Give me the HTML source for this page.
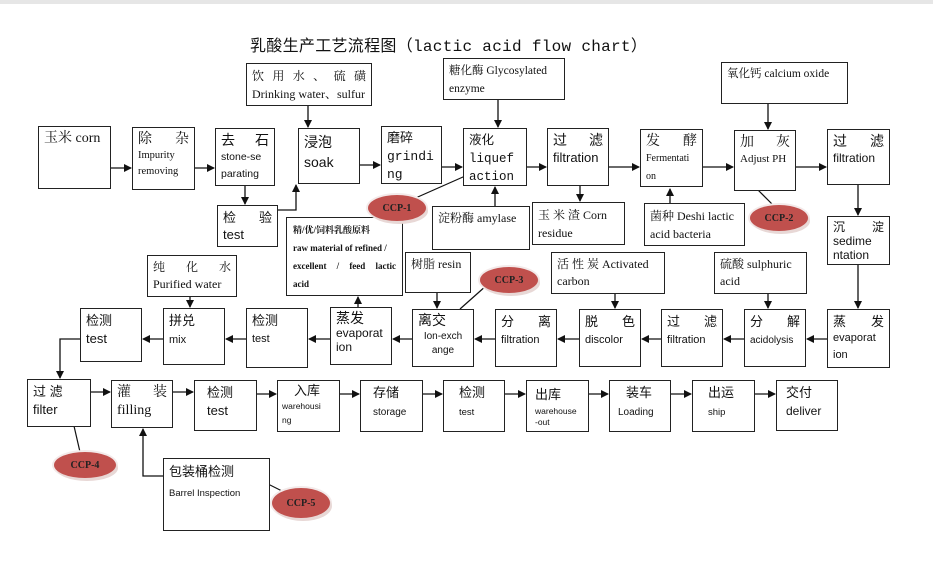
<!DOCTYPE html>
<html><head><meta charset="utf-8"><style>
body{margin:0;width:933px;height:576px;background:#fff;position:relative;overflow:hidden;font-family:"Liberation Serif","Noto Serif CJK SC",serif;color:#111}
.topbar{position:absolute;left:0;top:0;width:933px;height:4px;background:#e6e6e6}
.b{position:absolute;border:1.6px solid #222;box-sizing:border-box;background:#fff;padding:3px 5px;font-size:13px;line-height:17px;overflow:hidden}
.s{font-family:"Liberation Sans","Noto Sans CJK SC",sans-serif}
.m{font-family:"Liberation Mono","Noto Sans CJK SC",monospace}
.sm{font-size:10.5px}
.j{display:flex;justify-content:space-between;white-space:nowrap}
.title{position:absolute;left:250px;top:32px;font-size:16px;font-family:"Liberation Mono","Noto Sans CJK SC",monospace;letter-spacing:0.3px}
.ccp{position:absolute;border-radius:50%;background:#c0504d;box-shadow:2px 3px 0 #e8d8d6,0 0 0 2px #f3eaea;color:#222;font-weight:bold;font-size:10px;display:flex;align-items:center;justify-content:center;font-family:"Liberation Serif",serif}
svg{position:absolute;left:0;top:0}
</style></head><body>
<div class="topbar"></div>
<div class="title">乳酸生产工艺流程图（lactic acid flow chart）</div>

<svg width="933" height="576">
<defs><marker id="a" markerWidth="8" markerHeight="8" refX="7" refY="4" orient="auto" markerUnits="userSpaceOnUse"><path d="M0,0 L8,4 L0,8 z" fill="#111"/></marker></defs>
<g stroke="#111" stroke-width="1.3" fill="none" marker-end="url(#a)">
<line x1="111" y1="168" x2="131" y2="168"/>
<line x1="195" y1="168" x2="214" y2="168"/>
<line x1="360" y1="165" x2="380" y2="165"/>
<line x1="442" y1="167" x2="462" y2="167"/>
<line x1="527" y1="167" x2="546" y2="167"/>
<line x1="609" y1="167" x2="639" y2="167"/>
<line x1="703" y1="167" x2="733" y2="167"/>
<line x1="796" y1="167" x2="826" y2="167"/>
<line x1="308" y1="106" x2="308" y2="127"/>
<line x1="498" y1="100" x2="498" y2="127"/>
<line x1="768" y1="104" x2="768" y2="129"/>
<line x1="245" y1="186" x2="245" y2="204"/>
<polyline points="278,210 296,210 296,185"/>
<line x1="495" y1="206" x2="495" y2="187"/>
<line x1="580" y1="186" x2="580" y2="201"/>
<line x1="670" y1="203" x2="670" y2="189"/>
<line x1="858" y1="185" x2="858" y2="215"/>
<line x1="858" y1="265" x2="858" y2="308"/>
<line x1="827" y1="339" x2="807" y2="339"/>
<line x1="744" y1="339" x2="724" y2="339"/>
<line x1="661" y1="339" x2="642" y2="339"/>
<line x1="579" y1="339" x2="558" y2="339"/>
<line x1="495" y1="339" x2="475" y2="339"/>
<line x1="412" y1="339" x2="393" y2="339"/>
<line x1="330" y1="339" x2="309" y2="339"/>
<line x1="246" y1="339" x2="226" y2="339"/>
<line x1="163" y1="339" x2="143" y2="339"/>
<line x1="190" y1="297" x2="190" y2="307"/>
<line x1="437" y1="293" x2="437" y2="308"/>
<line x1="615" y1="294" x2="615" y2="308"/>
<line x1="768" y1="294" x2="768" y2="308"/>
<line x1="358" y1="307" x2="358" y2="297"/>
<polyline points="80,339 60,339 60,378"/>
<line x1="91" y1="392" x2="110" y2="392"/>
<line x1="173" y1="392" x2="193" y2="392"/>
<line x1="257" y1="394" x2="276" y2="394"/>
<line x1="340" y1="394" x2="359" y2="394"/>
<line x1="423" y1="394" x2="442" y2="394"/>
<line x1="505" y1="394" x2="525" y2="394"/>
<line x1="589" y1="394" x2="608" y2="394"/>
<line x1="671" y1="394" x2="691" y2="394"/>
<line x1="755" y1="394" x2="775" y2="394"/>
<polyline points="163,476 143,476 143,429"/>
</g>
<g stroke="#111" stroke-width="1.2">
<line x1="411" y1="200" x2="472" y2="173"/>
<line x1="754" y1="186" x2="778" y2="210"/>
<line x1="460" y1="309" x2="487" y2="285"/>
<line x1="71" y1="413" x2="80" y2="452"/>
<line x1="252" y1="476" x2="290" y2="495"/>
</g>
</svg>

<div class="b" style="left:246px;top:63px;width:126px;height:43px;font-size:12px;line-height:18px"><div class="j"><span>饮</span><span>用</span><span>水</span><span>、</span><span>硫</span><span>磺</span></div>Drinking water、sulfur</div>
<div class="b" style="left:443px;top:58px;width:122px;height:42px;font-size:11.5px;line-height:18px">糖化酶 Glycosylated enzyme</div>
<div class="b" style="left:721px;top:62px;width:127px;height:42px;font-size:11.5px">氧化钙 calcium oxide</div>

<div class="b" style="left:38px;top:126px;width:73px;height:63px;font-size:14px">玉米 corn</div>
<div class="b" style="left:132px;top:127px;width:63px;height:63px"><div class="j" style="font-size:14px"><span>除</span><span>杂</span></div><div class="sm" style="line-height:16px">Impurity removing</div></div>
<div class="b s" style="left:215px;top:128px;width:60px;height:58px"><div class="j" style="font-size:14px"><span>去</span><span>石</span></div><div class="sm" style="line-height:17px">stone-se parating</div></div>
<div class="b s" style="left:298px;top:128px;width:62px;height:56px;font-size:14px;line-height:20px">浸泡<br>soak</div>
<div class="b m" style="left:381px;top:126px;width:61px;height:58px;font-size:13px;line-height:18px">磨碎<br>grindi ng</div>
<div class="b m" style="left:463px;top:128px;width:64px;height:58px;font-size:12.5px;line-height:18px">液化<br>liquef<br>action</div>
<div class="b s" style="left:547px;top:128px;width:62px;height:58px"><div class="j" style="font-size:14px"><span>过</span><span>滤</span></div>filtration</div>
<div class="b" style="left:640px;top:129px;width:63px;height:58px"><div class="j" style="font-size:14px"><span>发</span><span>酵</span></div><div style="font-size:10px;line-height:18px">Fermentati on</div></div>
<div class="b" style="left:734px;top:130px;width:62px;height:61px"><div class="j" style="font-size:14px"><span>加</span><span>灰</span></div><div style="font-size:11px">Adjust PH</div></div>
<div class="b s" style="left:827px;top:129px;width:63px;height:56px"><div class="j" style="font-size:14px"><span>过</span><span>滤</span></div><div style="font-size:12px">filtration</div></div>

<div class="b s" style="left:217px;top:205px;width:61px;height:42px;font-size:13px;line-height:17px"><div class="j"><span>检</span><span>验</span></div>test</div>
<div class="b" style="left:286px;top:217px;width:117px;height:79px;font-size:9px;line-height:18px;font-weight:bold;padding:3px 6px"><div class="j"><span>精/优/饲料乳酸原料</span></div><div class="j"><span>raw material of refined /</span></div><div class="j"><span>excellent</span><span>/</span><span>feed</span><span>lactic</span></div><div>acid</div></div>
<div class="b" style="left:432px;top:206px;width:98px;height:44px;font-size:12px">淀粉酶 amylase</div>
<div class="b" style="left:532px;top:202px;width:93px;height:43px;font-size:12px;line-height:18px">玉 米 渣 Corn residue</div>
<div class="b" style="left:644px;top:203px;width:101px;height:43px;font-size:12px;line-height:18px">菌种 Deshi lactic acid bacteria</div>
<div class="b s" style="left:827px;top:216px;width:63px;height:49px;font-size:12px;line-height:14px"><div class="j"><span>沉</span><span>淀</span></div>sedime ntation</div>

<div class="b" style="left:147px;top:255px;width:90px;height:42px;font-size:12px;line-height:17px"><div class="j"><span>纯</span><span>化</span><span>水</span></div>Purified water</div>
<div class="b" style="left:405px;top:252px;width:66px;height:41px;font-size:12px">树脂 resin</div>
<div class="b" style="left:551px;top:252px;width:114px;height:42px;font-size:12px;line-height:17px">活 性 炭 Activated carbon</div>
<div class="b" style="left:714px;top:252px;width:93px;height:42px;font-size:12px;line-height:17px">硫酸 sulphuric acid</div>

<div class="b s" style="left:80px;top:308px;width:62px;height:54px;font-size:13px;line-height:18px">检测<br>test</div>
<div class="b s" style="left:163px;top:308px;width:62px;height:57px;font-size:13px;line-height:18px">拼兑<br><span style="font-size:11px">mix</span></div>
<div class="b s" style="left:246px;top:308px;width:62px;height:60px;font-size:13px;line-height:17px">检测<br><span style="font-size:11px">test</span></div>
<div class="b s" style="left:330px;top:307px;width:62px;height:58px;font-size:12px;line-height:14px"><span style="font-size:14px">蒸发</span><br>evaporat ion</div>
<div class="b s" style="left:412px;top:309px;width:62px;height:58px;font-size:10px;line-height:14px"><span style="font-size:14px">离交</span><br><div style="text-align:center">Ion-exch ange</div></div>
<div class="b s" style="left:495px;top:309px;width:62px;height:58px"><div class="j" style="font-size:13px"><span>分</span><span>离</span></div><span style="font-size:11px">filtration</span></div>
<div class="b s" style="left:579px;top:309px;width:62px;height:58px"><div class="j" style="font-size:13px"><span>脱</span><span>色</span></div><span style="font-size:11px">discolor</span></div>
<div class="b s" style="left:661px;top:309px;width:62px;height:58px"><div class="j" style="font-size:13px"><span>过</span><span>滤</span></div><span style="font-size:11px">filtration</span></div>
<div class="b s" style="left:744px;top:309px;width:62px;height:58px"><div class="j" style="font-size:13px"><span>分</span><span>解</span></div><span style="font-size:10px">acidolysis</span></div>
<div class="b s" style="left:827px;top:309px;width:63px;height:59px;font-size:11px;line-height:17px"><div class="j" style="font-size:13px"><span>蒸</span><span>发</span></div>evaporat ion</div>

<div class="b s" style="left:27px;top:379px;width:64px;height:48px;font-size:13px;line-height:18px">过 滤<br>filter</div>
<div class="b" style="left:111px;top:380px;width:62px;height:48px;font-size:14px;line-height:18px"><div class="j"><span>灌</span><span>装</span></div>filling</div>
<div class="b s" style="left:194px;top:380px;width:63px;height:51px;font-size:13px;line-height:18px;padding-left:12px">检测<br>test</div>
<div class="b s" style="left:277px;top:380px;width:63px;height:52px;font-size:8.5px;line-height:14px;padding-left:4px"><span style="font-size:13px;padding-left:12px">入库</span><br>warehousi<br>ng</div>
<div class="b s" style="left:360px;top:380px;width:63px;height:52px;font-size:10px;line-height:18px;padding-left:12px"><span style="font-size:13px">存储</span><br>storage</div>
<div class="b s" style="left:443px;top:380px;width:62px;height:52px;font-size:9.5px;line-height:18px;padding-left:15px"><span style="font-size:13px">检测</span><br>test</div>
<div class="b s" style="left:526px;top:380px;width:63px;height:52px;font-size:8.5px;line-height:11px;padding-left:8px"><span style="font-size:13px;line-height:22px">出库</span><br>warehouse<br>-out</div>
<div class="b s" style="left:609px;top:380px;width:62px;height:52px;font-size:10px;line-height:18px;padding-left:8px"><span style="font-size:13px;padding-left:8px">装车</span><br>Loading</div>
<div class="b s" style="left:692px;top:380px;width:63px;height:52px;font-size:9.5px;line-height:18px;padding-left:15px"><span style="font-size:13px">出运</span><br>ship</div>
<div class="b s" style="left:776px;top:380px;width:62px;height:51px;font-size:12px;line-height:18px;padding-left:9px"><span style="font-size:13px">交付</span><br>deliver</div>

<div class="b s" style="left:163px;top:458px;width:107px;height:73px;font-size:9.5px;line-height:20px"><span style="font-size:13px">包装桶检测</span><br>Barrel Inspection</div>

<div class="ccp" style="left:368px;top:195px;width:58px;height:26px">CCP-1</div>
<div class="ccp" style="left:750px;top:205px;width:58px;height:26px">CCP-2</div>
<div class="ccp" style="left:480px;top:267px;width:58px;height:26px">CCP-3</div>
<div class="ccp" style="left:54px;top:452px;width:62px;height:26px">CCP-4</div>
<div class="ccp" style="left:272px;top:488px;width:58px;height:30px">CCP-5</div>
</body></html>
